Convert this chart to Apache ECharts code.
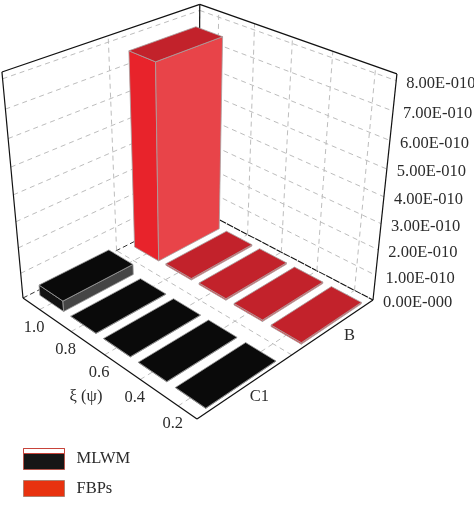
<!DOCTYPE html>
<html><head><meta charset="utf-8">
<style>html,body{margin:0;padding:0;background:#fff}#c{width:474px;height:515px}</style>
<script src="https://cdn.jsdelivr.net/npm/echarts@6/dist/echarts.min.js"></script>
</head><body><div id="c"></div>
<script>
// ---- data ----
const psiLabels = ['1.0','0.8','0.6','0.4','0.2'];
const catLabels = ['C1','B'];
const zTicks = [0,1e-10,2e-10,3e-10,4e-10,5e-10,6e-10,7e-10,8e-10];
const zLabels = ['0.00E-000','1.00E-010','2.00E-010','3.00E-010','4.00E-010','5.00E-010','6.00E-010','7.00E-010','8.00E-010'];
const mlwmValues = [0.42e-10,0.01e-10,0.01e-10,0.01e-10,0.01e-10];
const fbpValues  = [7.6e-10,0.06e-10,0.06e-10,0.06e-10,0.06e-10];
const zMax = 8.22e-10;

// ---- perspective view ----
const F=[197,419],L=[23,298],R=[373,300],B=[198.5,209],VP=[187,2058],TLy=72;
const dx=F[0]-L[0]+B[0]-R[0],dy=F[1]-L[1]+B[1]-R[1];
const dx1=L[0]-B[0],dx2=R[0]-B[0],dy1=L[1]-B[1],dy2=R[1]-B[1];
const den=dx1*dy2-dx2*dy1;
const g=(dx*dy2-dx2*dy)/den,h=(dx1*dy-dx*dy1)/den;
const a=L[0]-F[0]+g*L[0],b=R[0]-F[0]+h*R[0],d=L[1]-F[1]+g*L[1],e=R[1]-F[1]+h*R[1];
const s=(TLy*(g+1)-(d+F[1]))/(VP[1]-TLy);
function project(u,v,w){
  const W=g*u+h*v+1+s*w;
  return [(a*u+b*v+F[0]+s*w*VP[0])/W,(d*u+e*v+F[1]+s*w*VP[1])/W];
}
const rowU=i=>0.89-0.199*i, rowHalf=0.077;
const catV=[0.245,0.76], catHalf=0.185;
const SERIF='"Liberation Serif"';

function barItem(colors){
  return function(params,api){
    const i=api.value(0),c=api.value(1),val=api.value(2),w=val/zMax;
    const u0=rowU(i)-rowHalf,u1=rowU(i)+rowHalf,v0=catV[c]-catHalf,v1=catV[c]+catHalf;
    const P=(u,v,z)=>api.coord(project(u,v,z));
    const face=(pts,fill)=>({type:'polygon',shape:{points:pts},style:{fill,stroke:colors.edge,lineWidth:0.8}});
    return {type:'group',children:[
      face([P(u0,v0,0),P(u1,v0,0),P(u1,v0,w),P(u0,v0,w)],colors.side),
      face([P(u0,v0,0),P(u0,v1,0),P(u0,v1,w),P(u0,v0,w)],colors.front),
      face([P(u0,v0,w),P(u1,v0,w),P(u1,v1,w),P(u0,v1,w)],colors.top)
    ]};
  };
}
function frameItem(params,api){
  const P=(u,v,z)=>api.coord(project(u,v,z));
  const kids=[];
  const line=(p,q,stroke,width,dash)=>kids.push({type:'line',shape:{x1:p[0],y1:p[1],x2:q[0],y2:q[1]},style:{stroke,lineWidth:width,lineDash:dash||null}});
  const text=(str,p,align)=>kids.push({type:'text',style:{text:str,x:p[0],y:p[1],fontFamily:SERIF,fontSize:16.5,fill:'#2b2b2b',align:align||'center',verticalAlign:'middle'}});
  const GR='#bdbdbd',DS=[5,4];
  zTicks.forEach(t=>{ const w=t/zMax;
    if(t>0){line(P(1,0,w),P(1,1,w),GR,1,DS);}
    line(P(1,1,w),P(0,1,w),t>0?GR:'#111',t>0?1:1.1,t>0?DS:[7,1]);
  });
  line(P(1,0,0),P(1,1,0),'#333',1,[5,3]);
  line(P(1,0.5,0),P(1,0.5,1),GR,1,DS);
  line(P(0,0.5,0),P(1,0.5,0),GR,1,DS);
  psiLabels.forEach((_,i)=>{ const u=rowU(i);
    line(P(u,1,0),P(u,1,1),GR,1,DS);
    line(P(u,0,0),P(u,1,0),GR,1,DS);
    const q=P(u,0,0); text(psiLabels[i],[q[0]-5.5,q[1]+18]);
  });
  catLabels.forEach((c,i)=>{const q=P(0,catV[i],0); text(c,[q[0]+14,q[1]+10]);});
  zTicks.forEach((t,i)=>{const q=P(0,1,t/zMax); text(zLabels[i],[q[0]+10,q[1]+3],'left');});
  const K='#111';
  line(P(0,0,0),P(1,0,0),K,1.2); line(P(0,0,0),P(0,1,0),K,1.2);
  line(P(1,0,0),P(1,0,1),K,1.2); line(P(0,1,0),P(0,1,1),K,1.2);
  line(P(1,1,0),P(1,1,1),K,1.2);
  line(P(1,0,1),P(1,1,1),K,1.3); line(P(1,1,1),P(0,1,1),K,1.3);
  kids.push({type:'text',style:{text:'ξ (ψ)',x:api.coord([86,397])[0],y:api.coord([86,397])[1],fontFamily:SERIF,fontSize:16.5,fill:'#2b2b2b',align:'center',verticalAlign:'middle'}});
  return {type:'group',children:kids};
}
const toData=(arr,c)=>arr.map((v,i)=>[i,c,v]);
const chart=echarts.init(document.getElementById('c'),null,{renderer:'canvas'});
chart.setOption({
  animation:false,backgroundColor:'#fff',
  grid:{left:0,right:0,top:0,bottom:0},
  xAxis:{type:'value',min:0,max:474,show:false},
  yAxis:{type:'value',min:0,max:515,inverse:true,show:false},
  legend:{left:23,top:448,padding:0,orient:'vertical',itemWidth:41,itemHeight:21,itemGap:10,selectedMode:false,
    textStyle:{fontFamily:SERIF,fontSize:16.5,color:'#2b2b2b',padding:[0,0,0,7]},
    data:[{name:'MLWM',icon:'rect',itemStyle:{color:'#161616',borderColor:'#b5564c',borderWidth:1}},
          {name:'FBPs',icon:'path://M0 0H41V16H0Z',itemStyle:{color:'#e8320f',borderColor:'#b0806f',borderWidth:1}}]},
  graphic:[{type:'rect',z:100,left:23,top:448,shape:{width:41,height:5},style:{fill:'#fff',stroke:'#c8433a',lineWidth:1}}],
  series:[
    {name:'frame',type:'custom',renderItem:frameItem,data:[[0,0]],coordinateSystem:'cartesian2d',silent:true,clip:false,z:1},
    {name:'FBPs',type:'custom',renderItem:barItem({top:'#c2222b',front:'#e84449',side:'#e8232b',edge:'#a8a0a0'}),data:toData(fbpValues,1),encode:{x:0,y:1},itemStyle:{color:'#e8320f'},clip:false,silent:true,z:2},
    {name:'MLWM',type:'custom',renderItem:barItem({top:'#0a0a0a',front:'#454545',side:'#121212',edge:'#9a9a9a'}),data:toData(mlwmValues,0),encode:{x:0,y:1},itemStyle:{color:'#161616'},clip:false,silent:true,z:3}
  ]
});
</script></body></html>
